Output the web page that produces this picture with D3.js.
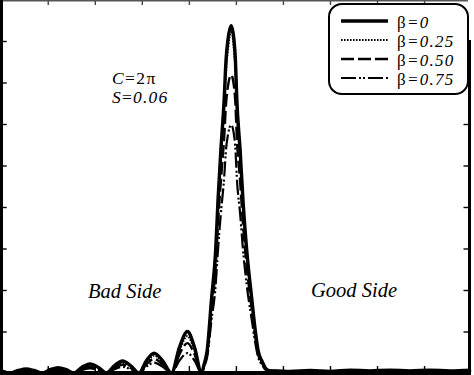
<!DOCTYPE html>
<html>
<head>
<meta charset="utf-8">
<title>Beta curves</title>
<script src="https://d3js.org/d3.v7.min.js"></script>
<style>
  body { margin: 0; background: #fff; }
  text { font-family: "Liberation Serif", "Times New Roman", serif; }
</style>
</head>
<body>
<script>
// abscissa knots (axis units, ticks every 1)
var xs = [0, 0.2, 0.37, 0.54, 0.71, 0.88, 1.05, 1.22, 1.39, 1.56, 1.73, 1.9, 2.07,
  2.25, 2.42, 2.59, 2.76, 2.94, 3.1, 3.26, 3.44, 3.63, 3.8, 3.97, 4.12, 4.27,
  4.32, 4.39, 4.48, 4.57, 4.62, 4.68, 4.75, 4.79, 4.83, 4.9, 4.96, 4.99, 5.02,
  5.09, 5.15, 5.23, 5.34, 5.41, 5.47, 5.56, 5.64, 5.73,
  5.85, 6.15, 6.58, 7.0, 7.43, 7.85, 8.28, 8.7, 9.13, 9.55, 10];

var beta0 = [0.06, 0, 0.06, 0.10, 0.06, 0, 0.08, 0.13, 0.08, 0, 0.14, 0.22, 0.14,
  0, 0.18, 0.29, 0.18, 0, 0.30, 0.48, 0.30, 0, 0.62, 1.0, 0.62, 0,
  0.19, 0.55, 1.76, 2.96, 4.17, 5.37, 6.58, 7.54, 8.02, 8.37, 8.02, 7.54, 6.58,
  5.37, 4.17, 2.96, 1.76, 1.04, 0.55, 0.27, 0.10, 0.05,
  0.05, 0.04, 0.06, 0.04, 0.07, 0.05, 0.07, 0.05, 0.07, 0.05, 0.07];

var beta25 = [0.05, 0, 0.055, 0.09, 0.055, 0, 0.07, 0.11, 0.07, 0, 0.12, 0.19, 0.12,
  0, 0.155, 0.25, 0.155, 0, 0.26, 0.42, 0.26, 0, 0.55, 0.89, 0.55, 0,
  0.18, 0.53, 1.71, 2.87, 4.04, 5.21, 6.38, 7.31, 7.78, 8.28, 7.78, 7.31, 6.38,
  5.21, 4.04, 2.87, 1.71, 1.01, 0.53, 0.26, 0.11, 0.07,
  0.06, 0.03, 0.05, 0.04, 0.06, 0.04, 0.06, 0.04, 0.06, 0.04, 0.06];

var beta50 = [0.04, 0, 0.045, 0.07, 0.045, 0, 0.055, 0.09, 0.055, 0, 0.09, 0.15, 0.09,
  0, 0.12, 0.20, 0.12, 0, 0.21, 0.34, 0.21, 0, 0.45, 0.72, 0.45, 0,
  0.16, 0.47, 1.51, 2.55, 3.59, 4.62, 5.66, 6.48, 6.90, 7.18, 6.90, 6.48, 5.66,
  4.62, 3.59, 2.55, 1.51, 0.89, 0.47, 0.23, 0.09, 0.05,
  0.04, 0.03, 0.05, 0.03, 0.05, 0.04, 0.05, 0.03, 0.05, 0.04, 0.05];

var beta75 = [0.03, 0, 0.03, 0.05, 0.03, 0, 0.045, 0.07, 0.045, 0, 0.07, 0.11, 0.07,
  0, 0.09, 0.15, 0.09, 0, 0.155, 0.25, 0.155, 0, 0.30, 0.48, 0.30, 0,
  0.14, 0.39, 1.26, 2.12, 2.98, 3.84, 4.70, 5.39, 5.73, 5.98, 5.73, 5.39, 4.70,
  3.84, 2.98, 2.12, 1.26, 0.74, 0.39, 0.19, 0.07, 0.04,
  0.03, 0.03, 0.04, 0.03, 0.04, 0.03, 0.04, 0.03, 0.04, 0.03, 0.04];

var xTicks = [1, 2, 3, 4, 5, 6, 7, 8, 9];
var yTicks = [1, 2, 3, 4, 5, 6, 7, 8];
var legendLabels = ["0", "0.25", "0.50", "0.75"];

var width = 474, height = 375;

var svg = d3.select("body").append("svg")
  .attr("width", width).attr("height", height);

var xScale = d3.scaleLinear().domain([0, 10]).range([0.7, 471.1]);
var yScale = d3.scaleLinear().domain([0, 9]).range([373, -0.5]);

// line styles, drawn back to front
var series = [
  { label: legendLabels[3], values: beta75, width: 2.2, dash: "15,3,2,2,2,3" },
  { label: legendLabels[2], values: beta50, width: 2.4, dash: "13,4" },
  { label: legendLabels[1], values: beta25, width: 2.2, dash: "1.6,1.4" },
  { label: legendLabels[0], values: beta0, width: 3.4, dash: null }
];

var line = d3.line()
  .x(function (d) { return xScale(d[0]); })
  .y(function (d) { return yScale(d[1]); })
  .curve(d3.curveMonotoneX);

svg.append("g").selectAll("path")
  .data(series)
  .enter()
  .append("path")
  .attr("fill", "none")
  .attr("stroke", "#000")
  .attr("stroke-width", function (d) { return d.width; })
  .attr("stroke-dasharray", function (d) { return d.dash; })
  .attr("d", function (d) { return line(xs.map(function (x, i) { return [x, d.values[i]]; })); });

// inward ticks on all four sides
function noLabels(axis) { return axis.tickFormat(""); }
svg.append("g").attr("transform", "translate(0," + yScale(0) + ")")
  .call(noLabels(d3.axisTop(xScale).tickValues(xTicks).tickSize(7)));
svg.append("g").attr("transform", "translate(0,0)")
  .call(noLabels(d3.axisBottom(xScale).tickValues(xTicks).tickSize(5)))
  .selectAll("line").attr("stroke", "#444");
svg.append("g").attr("transform", "translate(" + xScale(0) + ",0)")
  .call(noLabels(d3.axisRight(yScale).tickValues(yTicks).tickSize(6)));
svg.append("g").attr("transform", "translate(469.5,0)")
  .call(noLabels(d3.axisLeft(yScale).tickValues(yTicks).tickSize(6)));
svg.selectAll(".domain").remove();
svg.selectAll(".tick line").attr("stroke-width", 1.4);

// frame
svg.append("line").attr("x1", 0).attr("x2", 468).attr("y1", 0.8).attr("y2", 0.8)
  .attr("stroke", "#555").attr("stroke-width", 1.6);
svg.append("line").attr("x1", 1.5).attr("x2", 1.5).attr("y1", 0).attr("y2", height)
  .attr("stroke", "#000").attr("stroke-width", 3);
svg.append("line").attr("x1", 0).attr("x2", 471).attr("y1", 373).attr("y2", 373)
  .attr("stroke", "#000").attr("stroke-width", 4);
svg.append("line").attr("x1", 469.5).attr("x2", 469.5).attr("y1", 40).attr("y2", height)
  .attr("stroke", "#000").attr("stroke-width", 3);

// annotations
var c = svg.append("text").attr("x", 112).attr("y", 83.5)
  .attr("font-size", 17.5).attr("letter-spacing", 1.4);
c.append("tspan").attr("font-style", "italic").text("C");
c.append("tspan").text("=2π");
var s = svg.append("text").attr("x", 112).attr("y", 103)
  .attr("font-size", 17.5).attr("letter-spacing", 1.2);
s.append("tspan").attr("font-style", "italic").text("S");
s.append("tspan").text("=");
s.append("tspan").attr("font-style", "italic").text("0.06");

svg.append("text").attr("x", 88).attr("y", 298).attr("font-size", 20.5)
  .attr("font-style", "italic").text("Bad Side");
svg.append("text").attr("x", 311).attr("y", 297).attr("font-size", 20.5)
  .attr("font-style", "italic").text("Good Side");

// legend
var legend = svg.append("g");
legend.append("rect").attr("x", 329).attr("y", 4).attr("width", 139).attr("height", 90)
  .attr("rx", 13).attr("fill", "#fff").attr("stroke", "#000").attr("stroke-width", 2);
var legendItems = series.slice().reverse();
legendItems.forEach(function (d, i) {
  var ly = 21 + i * 19;
  legend.append("line").attr("x1", 341).attr("x2", 388).attr("y1", ly).attr("y2", ly)
    .attr("stroke", "#000").attr("stroke-width", d.width)
    .attr("stroke-dasharray", d.dash);
  var t = legend.append("text").attr("x", 397).attr("y", ly + 6.5)
    .attr("font-size", 17).attr("letter-spacing", 1.3);
  t.append("tspan").text("β");
  t.append("tspan").attr("font-style", "italic").text("=" + d.label);
});
</script>
</body>
</html>
